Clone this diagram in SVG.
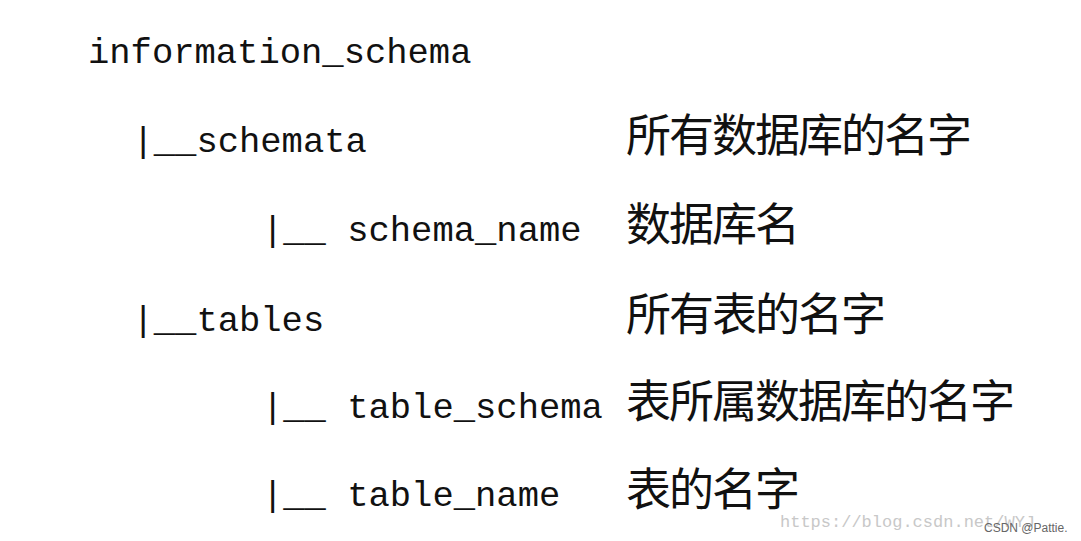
<svg xmlns="http://www.w3.org/2000/svg" width="1081" height="541" viewBox="0 0 1081 541">
  <style>
    .mono { font-family: "Liberation Mono", "DejaVu Sans Mono", monospace; font-size: 35.5px; fill: #111111; white-space: pre; }
    .cjk { font-family: "Noto Sans CJK SC", "Noto Sans", sans-serif; font-size: 45px; letter-spacing: -2px; fill: #111111; }
    .url { font-family: "Liberation Mono", monospace; font-size: 17px; fill: #c8c8c8; }
    .mark { font-family: "Liberation Sans", Arial, sans-serif; font-size: 12px; fill: #666666; }
  </style>
  <rect x="0" y="0" width="1081" height="541" fill="#ffffff"/>
  <g id="connectors"></g>
  <g id="node-information_schema">
    <text class="mono" x="88" y="63">information_schema</text>
  </g>
  <g id="node-schemata">
    <text class="mono" x="132.5" y="152">|__schemata</text>
    <text class="cjk" x="626" y="152">所有数据库的名字</text>
  </g>
  <g id="node-schema_name">
    <text class="mono" x="262" y="241">|__ schema_name</text>
    <text class="cjk" x="626" y="241">数据库名</text>
  </g>
  <g id="node-tables">
    <text class="mono" x="132.5" y="331">|__tables</text>
    <text class="cjk" x="626" y="331">所有表的名字</text>
  </g>
  <g id="node-table_schema">
    <text class="mono" x="262" y="418">|__ table_schema</text>
    <text class="cjk" x="626" y="418">表所属数据库的名字</text>
  </g>
  <g id="node-table_name">
    <text class="mono" x="262" y="506">|__ table_name</text>
    <text class="cjk" x="626" y="506">表的名字</text>
  </g>
  <g id="watermark">
    <text class="url" x="780" y="527">https://blog.csdn.net/WYJ</text>
    <text class="mark" x="984" y="532">CSDN @Pattie.</text>
  </g>
</svg>
